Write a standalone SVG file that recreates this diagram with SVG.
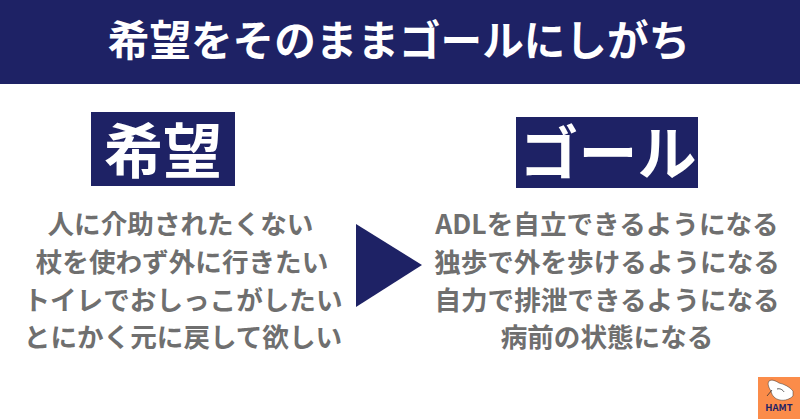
<svg xmlns="http://www.w3.org/2000/svg" width="800" height="419" viewBox="0 0 800 419">
<style>
text{font-family:"Noto Sans CJK JP","Noto Sans",sans-serif;text-anchor:middle;font-weight:700}
.t{fill:#fff}
.b{fill:#6f6f6f;font-size:26.6px}
.n{fill:#1e2265}
</style>
<rect width="800" height="419" fill="#fff"/>
<g id="title"><rect class="n" width="800" height="84"/><text class="t" x="399" y="56" font-size="41.6">希望をそのままゴールにしがち</text></g>
<g id="hope"><rect class="n" x="91" y="112" width="144" height="74"/><text class="t" x="163" y="173" font-size="59">希望</text></g>
<g id="goal"><rect class="n" x="516" y="117" width="182" height="71"/><text class="t" x="608" y="175" font-size="59">ゴール</text></g>
<g id="left"><text class="b" x="180.500" y="234">人に介助されたくない</text><text class="b" x="182" y="272">杖を使わず外に行きたい</text><text class="b" x="183" y="310">トイレでおしっこがしたい</text><text class="b" x="183" y="347">とにかく元に戻して欲しい</text></g>
<g id="arrow"><polygon class="n" points="356,224 422,265 356,307"/></g>
<g id="right"><text class="b" x="607" y="234">ADLを自立できるようになる</text><text class="b" x="607" y="272">独歩で外を歩けるようになる</text><text class="b" x="607" y="310">自力で排泄できるようになる</text><text class="b" x="607" y="347">病前の状態になる</text></g>
<g id="logo"><rect x="758" y="377" width="42" height="42" fill="#fb8c4a"/><path d="M769 381C772 379 776 381 779 383C784 384 790 387 793 391L793 396C790 399 785 401 780 400C775 399 772 396 771 391C769 388 767 384 769 381Z" fill="#fff" stroke="#333" stroke-width=".5"/><path d="M772 390L767 396M777 389C780 388 783 390 784 392" stroke="#333" stroke-width=".8" fill="none"/><text x="779" y="411" font-size="9.500" fill="#1e2265" font-family="Liberation Sans,sans-serif">HAMT</text></g>
</svg>
